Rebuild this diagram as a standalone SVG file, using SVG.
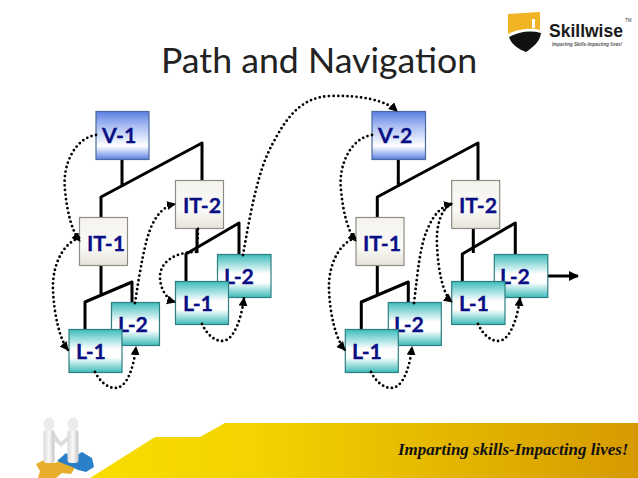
<svg xmlns="http://www.w3.org/2000/svg" width="638" height="478" viewBox="0 0 638 478">
<style>
.solid{fill:none;stroke:#000;stroke-width:3;stroke-linejoin:round}
.dot{fill:none;stroke:#000;stroke-width:2.8;stroke-dasharray:0 4.6;stroke-linecap:round;marker-end:url(#ah)}
.v{fill:url(#gv);stroke:#4a6a9c;stroke-width:1.2}
.it{fill:url(#git);stroke:#8f8c84;stroke-width:1.2}
.l{fill:url(#gl);stroke:#2e7f80;stroke-width:1.2}
.lbl{font-family:Lato,"Open Sans",sans-serif;font-weight:700;font-size:21.3px;fill:#0a0f85;stroke:#0a0f85;stroke-width:.3}
.title{font-family:Lato,"Open Sans",sans-serif;font-size:35.7px;fill:#222}
</style>
<defs>
<linearGradient id="gv" x1="0" y1="0" x2="0" y2="1"><stop offset="0" stop-color="#5c80e4"/><stop offset=".3" stop-color="#a9bdf2"/><stop offset=".72" stop-color="#fff"/><stop offset="1" stop-color="#5c80e4"/></linearGradient>
<linearGradient id="git" x1="0" y1="0" x2="0" y2="1"><stop offset="0" stop-color="#f5f3ee"/><stop offset=".6" stop-color="#fbfaf7"/><stop offset="1" stop-color="#e6e3da"/></linearGradient>
<linearGradient id="gl" x1="0" y1="0" x2="0" y2="1"><stop offset="0" stop-color="#3dbcbc"/><stop offset=".45" stop-color="#fff"/><stop offset=".65" stop-color="#fff"/><stop offset="1" stop-color="#3dbcbc"/></linearGradient>
<linearGradient id="gold" x1="0" y1="0" x2="1" y2="0"><stop offset="0" stop-color="#f9dd00"/><stop offset=".3" stop-color="#f3d300"/><stop offset="1" stop-color="#d69a00"/></linearGradient>
<linearGradient id="fig" x1="0" y1="0" x2="1" y2="0"><stop offset="0" stop-color="#d8d8d8"/><stop offset=".5" stop-color="#fafafa"/><stop offset="1" stop-color="#c4c4c4"/></linearGradient>
<marker id="ah" markerUnits="userSpaceOnUse" markerWidth="10" markerHeight="10" refX="8" refY="4.500" orient="auto"><path d="M0,0L9,4.500L0,9z" fill="#000"/></marker>
<marker id="ahs" markerUnits="userSpaceOnUse" markerWidth="11" markerHeight="11" refX="9" refY="5" orient="auto"><path d="M0,0L10,5L0,10z" fill="#000"/></marker>
</defs>
<rect width="638" height="478" fill="#fff"/>
<text class="title" x="161" y="73">Path and Navigation</text>

<g id="footer">
<path d="M225,423H638V478H90L155,437H200z" fill="url(#gold)"/>
<text x="398" y="455" font-family="Liberation Serif,serif" font-weight="700" font-style="italic" font-size="17px" fill="#111">Imparting skills-Impacting lives!</text>
</g>
<g id="people">
<path d="M36,464L48,458L54,463L72,458L76,466L71,474L62,473L56,478H38L40,471z" fill="#e9ad2c"/>
<path d="M57,461L66,453L72,458L82,452L92,458L94,467L86,472L78,470L72,467z" fill="#2a80c8"/>
<ellipse cx="49" cy="424" rx="5.500" ry="6.500" fill="#ececec"/>
<ellipse cx="73" cy="424" rx="5.500" ry="6.500" fill="#ececec"/>
<rect x="43.500" y="430" width="11" height="33" rx="3" fill="url(#fig)"/>
<rect x="67.500" y="430" width="11" height="33" rx="3" fill="url(#fig)"/>
<path d="M54,432L61,442L68,436V441L61,447L54,440z" fill="#dcdcdc"/>
</g>
<g id="logo">
<path d="M508,14L540,12V30C530,27 515,30 508,34z" fill="#f0b323"/>
<path d="M509,37C518,32 530,30 541,33C540,42 532,48 526,52C518,49 511,44 509,37z" fill="#111"/>
<rect x="532" y="19" width="3" height="9" fill="#fff"/>
<text x="549" y="37" font-family="Liberation Sans,sans-serif" font-weight="700" font-size="17.500px" fill="#1a1a1a">Skillwise</text>
<text x="625" y="22" font-family="Liberation Sans,sans-serif" font-size="4.500px" fill="#333">TM</text>
<text x="552" y="46" font-family="Liberation Sans,sans-serif" font-weight="700" font-style="italic" font-size="4.500px" fill="#555" textLength="70">Imparting Skills-Impacting lives!</text>
</g>

<g id="tree-connectors">
<path class="solid" d="M122,159V187M101,217V197L202,143V180M101,265V295M85,329V302L132,282V303M197,228V253M186,282V254L239,223V255"/>
<path class="solid" d="M398.300,159V187M377.300,217V197L478,143V180M377.300,265V295M361.300,329V302L408.300,282V303M473.300,228V253M462.300,282V254L515.300,223V255"/>
<path class="solid" d="M548,276H578" marker-end="url(#ahs)"/>
</g>

<g id="V-1"><rect class="v" x="96" y="111.500" width="53" height="48"/><text class="lbl" x="102" y="143">V-1</text></g>
<g id="IT-1a"><rect class="it" x="79.500" y="217.500" width="48" height="48"/><text class="lbl" x="87" y="251">IT-1</text></g>
<g id="IT-2a"><rect class="it" x="175.500" y="180.500" width="48" height="48"/><text class="lbl" x="183" y="213">IT-2</text></g>
<g id="L-2a"><rect class="l" x="111.500" y="302.500" width="48" height="43"/><text class="lbl" x="118" y="332">L-2</text></g>
<g id="L-1a"><rect class="l" x="69" y="329.500" width="53" height="43"/><text class="lbl" x="76" y="359">L-1</text></g>
<g id="L-2b"><rect class="l" x="217.500" y="254.500" width="53.500" height="43"/><text class="lbl" x="224" y="284">L-2</text></g>
<g id="L-1b"><rect class="l" x="175.500" y="281.500" width="53" height="43"/><text class="lbl" x="183" y="311">L-1</text></g>

<g id="V-2"><rect class="v" x="372" y="111.500" width="53.500" height="48"/><text class="lbl" x="378" y="143">V-2</text></g>
<g id="IT-1c"><rect class="it" x="356" y="217.500" width="48" height="48"/><text class="lbl" x="363" y="251">IT-1</text></g>
<g id="IT-2c"><rect class="it" x="451.700" y="180.500" width="48" height="48"/><text class="lbl" x="459" y="213">IT-2</text></g>
<g id="L-2c"><rect class="l" x="388.300" y="302.500" width="53" height="43"/><text class="lbl" x="394" y="332">L-2</text></g>
<g id="L-1c"><rect class="l" x="345.300" y="329.500" width="53" height="43"/><text class="lbl" x="352" y="359">L-1</text></g>
<g id="L-2d"><rect class="l" x="494.300" y="254.500" width="53.500" height="43"/><text class="lbl" x="500" y="284">L-2</text></g>
<g id="L-1d"><rect class="l" x="451.700" y="281.500" width="53.300" height="43"/><text class="lbl" x="459" y="311">L-1</text></g>

<g id="dotted-connectors">
<path class="dot" d="M96,135C75,138 62,165 65,190C67,212 72,232 80,241"/>
<path class="dot" d="M79,238C60,245 52,270 53,290C54,315 60,340 68,350"/>
<path class="dot" d="M95,372C100,382 108,388 115,388C128,388 134,365 136,347"/>
<path class="dot" d="M135,303C140,270 145,240 152,225C158,213 165,206 175,204"/>
<path class="dot" d="M198,229C198,238 197,245 196,252C175,252 160,262 160,277C160,290 168,300 175,302"/>
<path class="dot" d="M202,324C207,335 215,341 222,341C235,341 242,315 244,298"/>
<path class="dot" d="M243,255C250,215 258,170 272,145C285,120 300,97 330,96C360,95 385,100 397,111"/>
<path class="dot" d="M372,135C351,138 338,165 341,190C343,212 348,232 356,241"/>
<path class="dot" d="M355,238C336,245 328,270 329,290C330,315 336,340 345,350"/>
<path class="dot" d="M371,372C376,382 384,388 391,388C404,388 410,365 412,347"/>
<path class="dot" d="M414,303C418,270 420,245 428,228C434,214 442,206 452,204"/>
<path class="dot" d="M451,204C440,210 436,228 437,245C438,270 443,295 452,302"/>
<path class="dot" d="M478,324C483,335 491,341 498,341C511,341 518,315 520,298"/>
</g>
</svg>
